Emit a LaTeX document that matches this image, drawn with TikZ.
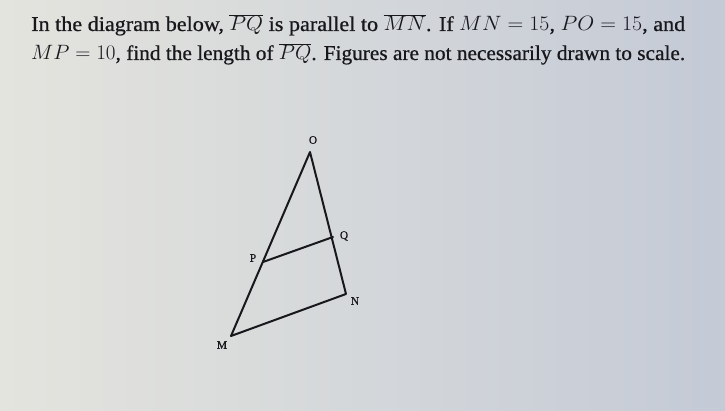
\documentclass[tikz,border=0pt]{standalone}
\usepackage{fontspec}
\setmainfont{Liberation Serif}
\newfontfamily\txtfont{Liberation Serif}[FakeBold=0.7]
\usepackage{graphicx}
\definecolor{ink}{RGB}{24,24,28}
\definecolor{bgl}{RGB}{228,228,222}
\definecolor{bgr}{RGB}{196,202,214}
\tikzset{
  edge/.style={draw=ink, line width=2pt, line join=round, line cap=round},
  vlabel/.style={text=ink, font=\txtfont\fontsize{11.5}{12}\selectfont, inner sep=0pt},
  para/.style={text=ink, inner sep=0pt, anchor=base west}
}
\newcommand{\ov}[1]{\overline{#1}}
\begin{document}
\begin{tikzpicture}[x=1pt,y=-1pt]
\useasboundingbox (0,0) rectangle (725,411);
\shade[left color=bgl, right color=bgr] (0,0) rectangle (725,411);
% text
\node[para] (l1) at (31,31) {\resizebox{654pt}{\height}{\txtfont\fontsize{21}{24}\selectfont In the diagram below, $\ov{PQ}$ is parallel to $\ov{MN}$. If $MN = 15$, $PO = 15$, and}};
\node[para] (l2) at (31,60) {\resizebox{654pt}{\height}{\txtfont\fontsize{21}{24}\selectfont $MP = 10$, find the length of $\ov{PQ}$. Figures are not necessarily drawn to scale.}};
% triangle
\coordinate (O) at (310,152);
\coordinate (Q) at (333,237);
\coordinate (P) at (263,262);
\coordinate (N) at (346,294);
\coordinate (M) at (231,336);
\draw[edge] (M) -- (O) -- (N) -- cycle;
\draw[edge] (P) -- (Q);
\node[vlabel] (lO) at (313,140) {O};
\node[vlabel] (lQ) at (344,236) {Q};
\node[vlabel] (lP) at (253,258) {P};
\node[vlabel] (lN) at (355,301) {N};
\node[vlabel] (lM) at (222,345) {M};
\end{tikzpicture}
\end{document}
